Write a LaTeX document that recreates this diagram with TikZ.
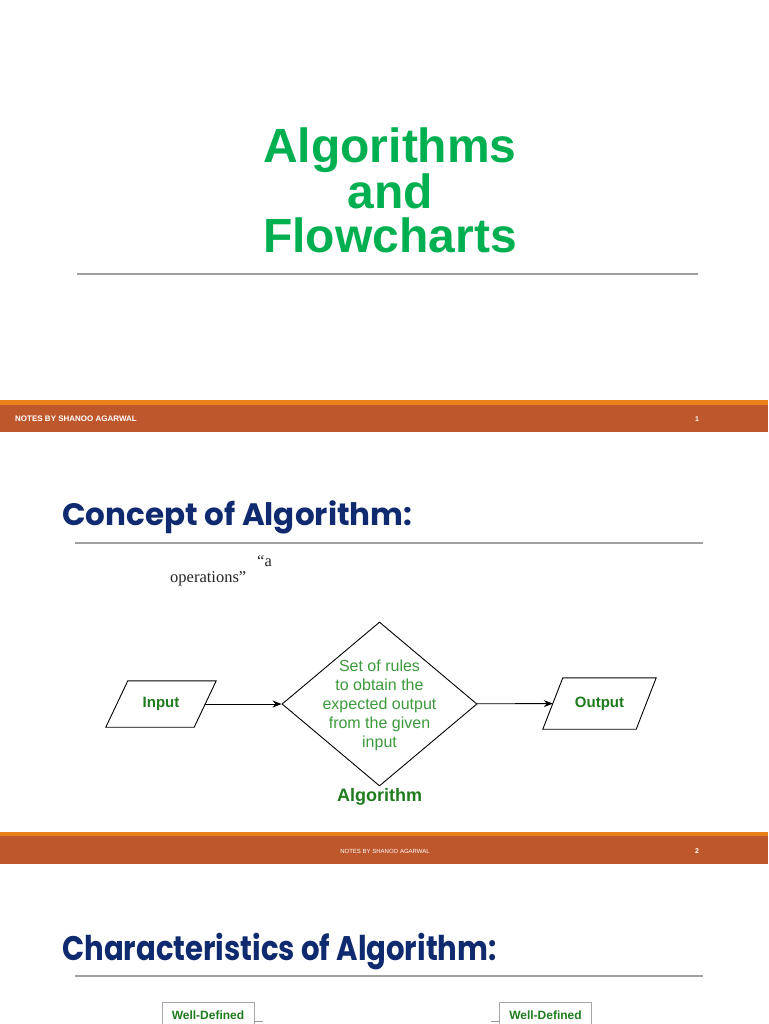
\documentclass[tikz,border=0pt]{standalone}
\usepackage{fontspec}
\usepackage{graphicx}
\setmainfont{Liberation Sans}
\newfontfamily\titlefont{Poppins}
\newfontfamily\seriffont{Liberation Serif}
\usetikzlibrary{shapes.geometric,arrows.meta}
\definecolor{titlegreen}{HTML}{00B050}
\definecolor{navy}{HTML}{0F2A6E}
\definecolor{rust}{HTML}{BE582C}
\definecolor{orangestrip}{HTML}{E8801C}
\definecolor{rulegray}{HTML}{A0A0A0}
\definecolor{dkgreen}{HTML}{1E7B1E}
\definecolor{ltgreen}{HTML}{3C9A3C}
\begin{document}
\begin{tikzpicture}[x=1pt,y=-1pt,
  rulel/.style={draw=rulegray,line width=1.2pt},
  footer/.style={text=white,font=\fontsize{8}{9}\selectfont\bfseries,inner sep=0pt},
  slidetitle/.style={text=navy,font=\titlefont\bfseries\fontsize{31}{36}\selectfont,anchor=west,inner sep=0pt},
  paratext/.style={inner sep=0pt,text=dkgreen,font=\bfseries\fontsize{15}{17}\selectfont},
  paraline/.style={draw=black,line width=0.9pt},
  conn/.style={draw=black,line width=0.9pt,-{Stealth[length=9pt,width=7pt]}},
  wdbox/.style={draw=gray!70,line width=0.8pt,fill=white,minimum width=92,minimum height=26,anchor=north,
    text=dkgreen,font=\bfseries\fontsize{12}{14}\selectfont,inner sep=0pt},
  quote/.style={text=black!85,font=\seriffont\fontsize{16.5}{18}\selectfont,anchor=west,inner sep=0pt}
]
\useasboundingbox (0,0) rectangle (768,1024);
\fill[white] (0,0) rectangle (768,1024);

% ---- slide 1 ----
\node[text=titlegreen,font=\bfseries\fontsize{48}{44}\selectfont,align=center,inner sep=0pt] (t1) at (390,190)
  {Algorithms\\and\\Flowcharts};
\draw[rulel] (77,274) -- (698,274);

% footer 1
\fill[orangestrip] (0,399.5) rectangle (768,404.5);
\fill[rust] (0,404.5) rectangle (768,432);
\node[footer,anchor=west] (f1) at (15,419) {NOTES BY SHANOO AGARWAL};
\node[footer,font=\bfseries\fontsize{7}{8}\selectfont] (p1) at (697,419) {1};

% ---- slide 2 ----
\node[slidetitle] (t2) at (62,517) {Concept of Algorithm:};
\draw[rulel] (75,543) -- (703,543);
\node[quote] (q1) at (257,561) {“a};
\node[quote] (q2) at (170,579) {operations”};

% input parallelogram
\node[paratext,minimum width=88,minimum height=46] (in) at (161,704) {Input};
\draw[paraline] ([xshift=-11pt]in.south west) -- ([xshift=11pt]in.north west)
  -- ([xshift=11pt]in.north east) -- ([xshift=-11pt]in.south east) -- cycle;
% algorithm diamond
\node[draw=black,line width=0.9pt,diamond,minimum width=195,minimum height=164,inner sep=0pt] (alg) at (379.5,704) {};
\node[text=ltgreen,font=\fontsize{16}{19}\selectfont,align=center,inner sep=0pt] (algtxt) at (379.5,705)
  {Set of rules\\to obtain the\\expected output\\from the given\\input};
% output parallelogram
\node[paratext,minimum width=93,minimum height=51] (out) at (599.5,703.5) {Output};
\draw[paraline] ([xshift=-10pt]out.south west) -- ([xshift=10pt]out.north west)
  -- ([xshift=10pt]out.north east) -- ([xshift=-10pt]out.south east) -- cycle;
\node[text=dkgreen,font=\bfseries\fontsize{18}{20}\selectfont,inner sep=0pt] (alglbl) at (379.5,797) {Algorithm};
\draw[conn] (in) -- (alg);
\draw[conn] (alg) -- (out);

% footer 2
\fill[orangestrip] (0,831.5) rectangle (768,836);
\fill[rust] (0,836) rectangle (768,864);
\node[footer,font=\fontsize{6}{7}\selectfont] (f2) at (385,851) {NOTES BY SHANOO AGARWAL};
\node[footer,font=\bfseries\fontsize{7}{8}\selectfont] (p2) at (697,851) {2};

% ---- slide 3 ----
\node[slidetitle] (t3) at (62,952) {\scalebox{0.94}[1.1]{Characteristics of Algorithm:}};
\draw[rulel] (75,976) -- (703,976);
\node[wdbox] (wd1) at (208,1002) {Well-Defined};
\node[wdbox] (wd2) at (545.5,1002) {Well-Defined};
\coordinate (c1) at (263,1021);
\coordinate (c2) at (491,1021);
\draw[draw=gray!80,line width=0.8pt] (wd1.east |- c1) -- (c1);
\draw[draw=gray!80,line width=0.8pt] (wd2.west |- c2) -- (c2);
\end{tikzpicture}
\end{document}
